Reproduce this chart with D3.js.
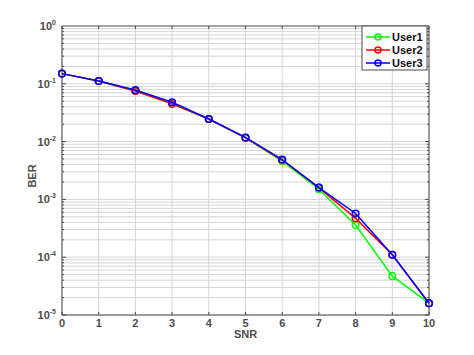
<!DOCTYPE html>
<html><head><meta charset="utf-8">
<script src="https://cdn.jsdelivr.net/npm/d3@7"></script>
<style>body{margin:0;background:#fff}svg{display:block}text{font-family:"Liberation Sans",Arial,sans-serif}</style>
</head><body><svg id="c" width="474" height="355"></svg>
<script>
const snr = [0,1,2,3,4,5,6,7,8,9,10];
const user1 = [0.15,0.112,0.076,0.045,0.0246,0.0116,0.0046,0.0015,0.00036,0.000047,0.000016];
const user2 = [0.15,0.112,0.075,0.045,0.0246,0.0116,0.0048,0.0016,0.00047,0.00011,0.000016];
const user3 = [0.15,0.112,0.078,0.048,0.0246,0.0118,0.0049,0.0016,0.00057,0.00011,0.000016];
const seriesNames = ["User1","User2","User3"];
const colors = ["#00ff00","#ff0000","#0000ff"];
const xTicks = [0,1,2,3,4,5,6,7,8,9,10];
const yDecades = [0,-1,-2,-3,-4,-5];

const svg = d3.select("#c");
const L=62,R=429,T=26,B=315;
const x = d3.scaleLinear().domain([0,10]).range([L,R]);
const y = d3.scaleLog().domain([1e-5,1]).range([B,T]);
const g = svg.append("g");
const tc="#4d4d4d";

// grid
xTicks.forEach(v=>g.append("line").attr("x1",x(v)).attr("x2",x(v)).attr("y1",T).attr("y2",B).attr("stroke","#d4d4d4").attr("stroke-width",1));
for(let e=-5;e<0;e++){for(let m=1;m<10;m++){const v=m*Math.pow(10,e);
  g.append("line").attr("x1",L).attr("x2",R).attr("y1",y(v)).attr("y2",y(v)).attr("stroke","#d4d4d4").attr("stroke-width",1);}}
// ticks inside
xTicks.forEach(v=>{g.append("line").attr("x1",x(v)).attr("x2",x(v)).attr("y1",B).attr("y2",B-3).attr("stroke",tc);
  g.append("line").attr("x1",x(v)).attr("x2",x(v)).attr("y1",T).attr("y2",T+3).attr("stroke",tc);});
for(let e=-5;e<0;e++){for(let m=1;m<10;m++){const v=m*Math.pow(10,e);const len=m===1?4:2;
  g.append("line").attr("x1",L).attr("x2",L+len).attr("y1",y(v)).attr("y2",y(v)).attr("stroke",tc);
  g.append("line").attr("x1",R).attr("x2",R-len).attr("y1",y(v)).attr("y2",y(v)).attr("stroke",tc);}}
g.append("rect").attr("x",L).attr("y",T).attr("width",R-L).attr("height",B-T).attr("fill","none").attr("stroke",tc).attr("stroke-width",1);

// tick labels
xTicks.forEach(v=>g.append("text").attr("x",x(v)).attr("y",327).attr("text-anchor","middle").attr("font-size",11).attr("font-weight","bold").attr("fill",tc).text(v));
yDecades.forEach(e=>{const t=g.append("text").attr("x",L-6).attr("y",y(Math.pow(10,e))+4).attr("text-anchor","end").attr("font-size",11).attr("font-weight","bold").attr("fill",tc);
  t.append("tspan").text("10");
  t.append("tspan").attr("dy",-5).attr("font-size",7).text(e);});
g.append("text").attr("x",(L+R)/2).attr("y",338).attr("text-anchor","middle").attr("font-size",11).attr("font-weight","bold").attr("fill",tc).text("SNR");
g.append("text").attr("transform",`translate(36,176) rotate(-90)`).attr("text-anchor","middle").attr("font-size",11).attr("font-weight","bold").attr("fill",tc).text("BER");

// series
const data=[user1,user2,user3];
const line=d3.line().x((d,i)=>x(snr[i])).y(d=>y(d));
data.forEach((s,k)=>{
  g.append("path").datum(s).attr("d",line).attr("fill","none").attr("stroke",colors[k]).attr("stroke-width",1.5);
  g.selectAll(null).data(s).enter().append("circle").attr("cx",(d,i)=>x(snr[i])).attr("cy",d=>y(d)).attr("r",3.3).attr("fill","none").attr("stroke",colors[k]).attr("stroke-width",1.5);
});

// legend
const lg=g.append("g");
lg.append("rect").attr("x",362).attr("y",26).attr("width",65).attr("height",44).attr("fill","#fff").attr("stroke",tc);
seriesNames.forEach((n,k)=>{const yy=37+k*13;
  lg.append("line").attr("x1",366).attr("x2",390).attr("y1",yy).attr("y2",yy).attr("stroke",colors[k]).attr("stroke-width",1.5);
  lg.append("circle").attr("cx",378).attr("cy",yy).attr("r",3).attr("fill","none").attr("stroke",colors[k]).attr("stroke-width",1.5);
  lg.append("text").attr("x",392).attr("y",yy+4).attr("font-size",11).attr("font-weight","bold").attr("fill","#111").text(n);});
</script></body></html>
